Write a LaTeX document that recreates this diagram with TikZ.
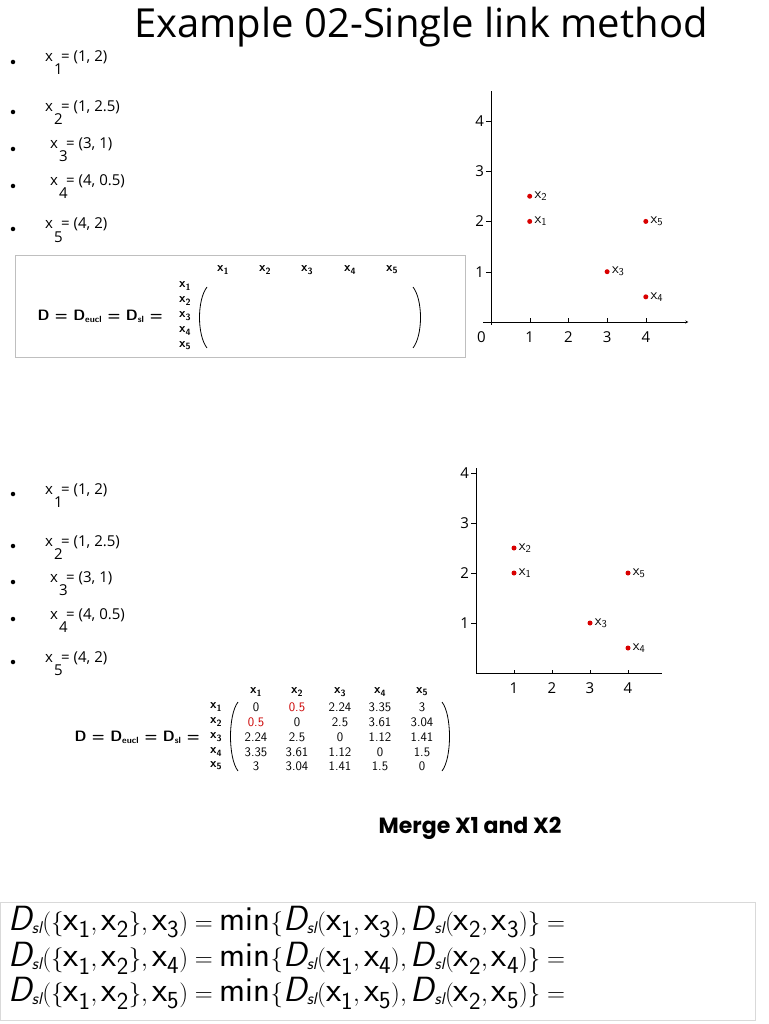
\documentclass[tikz,border=0pt]{standalone}
\usepackage{fontspec}
\setmainfont{Open Sans}
\newfontfamily\popp{Poppins}
\newcommand{\Dsl}{\textit{D}_{\hbox{\fontsize{17}{17}\selectfont\sffamily\itshape sl}}}
\begin{document}
\begin{tikzpicture}[x=1pt,y=-1pt,
  lbl/.style={inner sep=0pt,font=\fontsize{15}{16}\selectfont},
  mlbl/.style={inner sep=0pt,font=\sffamily\bfseries\fontsize{13}{14}\selectfont},
  num/.style={inner sep=0pt,font=\sffamily\fontsize{13}{14}\selectfont},
  tick/.style={inner sep=0pt,font=\fontsize{15}{15}\selectfont},
  pt/.style={circle,fill=red!85!black,inner sep=0pt,minimum size=5pt},
  ptl/.style={inner sep=0pt,font=\sffamily\fontsize{15}{16}\selectfont,anchor=west},
  bul/.style={circle,fill=black,inner sep=0pt,minimum size=4.5pt},
  eqn/.style={inner sep=0pt,anchor=west,font=\fontsize{35}{36}\selectfont}]
\useasboundingbox (0,0) rectangle (768,1024);
\fill[white] (0,0) rectangle (768,1024);
\node[inner sep=0pt,font=\fontsize{40}{42}\selectfont] (title) at (421,27) {Example 02-Single link method};

% lists
\foreach \i/\yy/\xx/\v/\tag in {1/58/45/{(1, 2)}/a1,2/108/45/{(1, 2.5)}/a2,3/145/50/{(3, 1)}/a3,4/182/50/{(4, 0.5)}/a4,5/225/45/{(4, 2)}/a5,
  1/490/45/{(1, 2)}/b1,2/542/45/{(1, 2.5)}/b2,3/578/50/{(3, 1)}/b3,4/615/50/{(4, 0.5)}/b4,5/658/45/{(4, 2)}/b5}{
  \node[bul] (bu\tag) at (13,\yy+4) {};
  \node[lbl,anchor=base west] (xx\tag) at (\xx,\yy+4) {x};
  \node[lbl,anchor=base west] (sb\tag) at (\xx+9,\yy+17) {\i};
  \node[lbl,anchor=base west] (vv\tag) at (\xx+16,\yy+4) {= \v};
}

% empty matrix box
\draw[black!25] (15,255) rectangle (465,357);
\node[mlbl,anchor=east,font=\sffamily\bfseries\fontsize{15}{16}\selectfont] (Da) at (163,316) {D = D\textsubscript{\fontsize{9}{9}\selectfont eucl} = D\textsubscript{\fontsize{9}{9}\selectfont sl} =};
\foreach \j/\xx in {1/223,2/265,3/307,4/350,5/392}{
  \node[mlbl] (ha\j) at (\xx,270) {x\textsubscript{\j}};}
\foreach \j/\yy in {1/286,2/301,3/316,4/331,5/346}{
  \node[mlbl] (ra\j) at (185,\yy) {x\textsubscript{\j}};}
\draw[thick] (207,287) .. controls (197,300) and (197,335) .. (207,348);
\draw[thick] (413,287) .. controls (423,300) and (423,335) .. (413,348);

% top plot
\begin{scope}[shift={(491,322)},x=38.7pt,y=50.3pt]
\draw[thin,-stealth] (-0.2,0) -- (5.1,0);
\draw[thin] (0,-0.05) -- (0,4.6);
\foreach \k in {1,2,3,4}{
  \draw (\k,0) -- (\k,0.07);
  \node[tick] (tx\k) at (\k,-0.3) {\k};
  \draw (0,\k) -- (-0.12,\k);
  \node[tick,anchor=east] (ty\k) at (-0.18,\k) {\k};}
\node[tick] (o) at (-0.25,-0.3) {0};
\foreach \n/\px/\py in {1/1/2,2/1/2.5,3/3/1,4/4/0.5,5/4/2}{
  \node[pt] (p\n) at (\px,\py) {};
  \node[ptl] (pl\n) at ([xshift=2pt]p\n.east) {x\textsubscript{\n}};}
\end{scope}

% bottom plot
\begin{scope}[shift={(476,673)},x=38pt,y=50pt]
\draw[thin] (0,0) -- (4.9,0);
\draw[thin] (0,0) -- (0,4.1);
\foreach \k in {1,2,3,4}{
  \draw (\k,0) -- (\k,0.07);
  \node[tick] (ux\k) at (\k,-0.3) {\k};
  \draw (0,\k) -- (-0.12,\k);
  \node[tick,anchor=east] (uy\k) at (-0.18,\k) {\k};}
\foreach \n/\px/\py in {1/1/2,2/1/2.5,3/3/1,4/4/0.5,5/4/2}{
  \node[pt] (q\n) at (\px,\py) {};
  \node[ptl] (ql\n) at ([xshift=2pt]q\n.east) {x\textsubscript{\n}};}
\end{scope}

% filled matrix
\node[mlbl,anchor=east,font=\sffamily\bfseries\fontsize{15}{16}\selectfont] (Db) at (200,737) {D = D\textsubscript{\fontsize{9}{9}\selectfont eucl} = D\textsubscript{\fontsize{9}{9}\selectfont sl} =};
\foreach \j/\xx in {1/256,2/297,3/340,4/380,5/422}{
  \node[mlbl] (hb\j) at (\xx,692) {x\textsubscript{\j}};}
\foreach \j/\yy in {1/707,2/722,3/737,4/752,5/766}{
  \node[mlbl] (rb\j) at (216,\yy) {x\textsubscript{\j}};}
\draw[thick] (238,702) .. controls (228,715) and (228,758) .. (238,771);
\draw[thick] (442,702) .. controls (452,715) and (452,758) .. (442,771);
\foreach \r/\yy/\a/\b/\c/\d/\e in {1/707/0/\textcolor{red!80!black}{0.5}/2.24/3.35/3,2/722/\textcolor{red!80!black}{0.5}/0/2.5/3.61/3.04,3/737/2.24/2.5/0/1.12/1.41,4/752/3.35/3.61/1.12/0/1.5,5/766/3/3.04/1.41/1.5/0}{
  \node[num] (m\r a) at (256,\yy) {\a};
  \node[num] (m\r b) at (297,\yy) {\b};
  \node[num] (m\r c) at (340,\yy) {\c};
  \node[num] (m\r d) at (380,\yy) {\d};
  \node[num] (m\r e) at (422,\yy) {\e};}

\node[inner sep=0pt,font=\popp\bfseries\fontsize{22}{24}\selectfont] (merge) at (470,828) {Merge X1 and X2};

% formulas
\draw[black!15] (0,902) rectangle (755,1020);
\foreach \k/\yy in {3/922,4/958,5/993}{
  \node[eqn] (e\k) at (8,\yy) {\sffamily$\Dsl(\{\mathsf{x}_{\mathsf{1}},\mathsf{x}_{\mathsf{2}}\},\mathsf{x}_{\mathsf{\k}}) = \mathsf{min}\{\Dsl(\mathsf{x}_{\mathsf{1}},\mathsf{x}_{\mathsf{\k}}),\Dsl(\mathsf{x}_{\mathsf{2}},\mathsf{x}_{\mathsf{\k}})\} =$};}
\end{tikzpicture}
\end{document}
